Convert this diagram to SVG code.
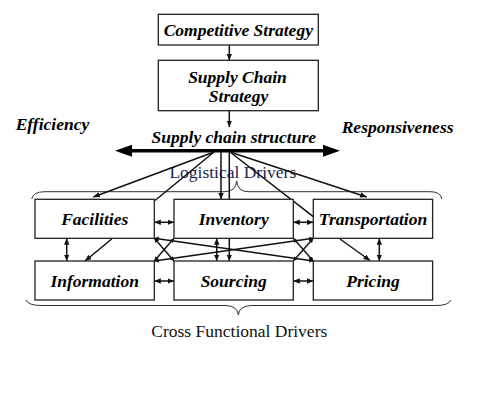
<svg xmlns="http://www.w3.org/2000/svg" width="483" height="419" viewBox="0 0 483 419">
<defs>
<marker id="ah" markerUnits="userSpaceOnUse" markerWidth="7" markerHeight="6" refX="6.5" refY="2.75" orient="auto-start-reverse">
<path d="M0,0 L6.5,2.75 L0,5.5 z" fill="#111"/>
</marker>
<marker id="ahs" markerUnits="userSpaceOnUse" markerWidth="5" markerHeight="5" refX="4.5" refY="2.25" orient="auto-start-reverse">
<path d="M0,0 L4.5,2.25 L0,4.5 z" fill="#111"/>
</marker>
</defs>
<style>
.box{fill:#fff;stroke:#222;stroke-width:1.3}
.lbl{font-family:"Liberation Serif","Times New Roman",serif;font-weight:bold;font-style:italic;font-size:17.5px;fill:#000;text-anchor:middle}
.side{font-family:"Liberation Serif","Times New Roman",serif;font-weight:bold;font-style:italic;font-size:17.5px;fill:#000}
.plain{font-family:"Liberation Serif","Times New Roman",serif;font-size:17.5px;text-anchor:middle}
.cs{fill:none;stroke:#111;stroke-width:1.5;marker-end:url(#ah)}
.cd{fill:none;stroke:#111;stroke-width:1.5;marker-start:url(#ah);marker-end:url(#ah)}
.cx{fill:none;stroke:#111;stroke-width:1.4;marker-start:url(#ahs);marker-end:url(#ahs)}
.brace{fill:none;stroke:#333;stroke-width:1}
</style>
<rect width="483" height="419" fill="#fff"/>

<g id="labels">
<text class="side" x="15.7" y="129.5">Efficiency</text>
<text class="side" x="341.7" y="133.3">Responsiveness</text>
<text class="plain" x="232.8" y="178.3" fill="#1c2550">Logistical Drivers</text>
<text class="plain" x="239.3" y="336.7" fill="#111">Cross Functional Drivers</text>
<path class="brace" d="M31.7,199 Q33,191.7 45,191.7 L225,191.7 Q236,191.5 236.7,181 Q237.5,191.5 248,191.7 L430,191.7 Q441,191.7 441.7,199"/>
<path class="brace" d="M26,300 Q28,305.5 42,305.5 L226,305.5 Q237.5,306 238.3,315 Q239.2,306 251,305.5 L436,305.5 Q449,305.5 450.7,300"/>
</g>

<g id="connectors">
<line class="cs" x1="229.3" y1="45" x2="229.3" y2="60.3"/>
<line class="cs" x1="229.3" y1="110.7" x2="229.3" y2="127"/>
<g id="structure-arrow">
<line x1="128" y1="150.7" x2="327" y2="150.7" stroke="#000" stroke-width="3.6"/>
<polygon points="115,150.7 132,144.7 132,156.7" fill="#000"/>
<polygon points="340,150.7 323,144.7 323,156.7" fill="#000"/>
</g>
<line class="cs" x1="214" y1="152" x2="93.3" y2="197"/>
<path class="cs" d="M214,152 L155,200.5 M111.7,239 L85,261"/>
<line class="cs" x1="221" y1="152" x2="221" y2="199.3"/>
<path class="cs" d="M229.3,152 L229.3,199.3 M229.3,238.3 L229.3,261"/>
<path class="cs" d="M230,152 L313.3,216.7 M340,239 L370,260.5"/>
<line class="cs" x1="230" y1="152" x2="366.7" y2="197"/>

<line class="cd" x1="154.3" y1="222.3" x2="174" y2="222.3"/>
<line class="cd" x1="293.3" y1="222.3" x2="313.3" y2="222.3"/>
<line class="cd" x1="154.3" y1="281" x2="174" y2="281"/>
<line class="cd" x1="293.3" y1="281" x2="313.3" y2="281"/>
<line class="cd" x1="66.7" y1="238.3" x2="66.7" y2="261"/>
<line class="cd" x1="216.7" y1="238.3" x2="216.7" y2="261"/>
<line class="cd" x1="379.3" y1="238.3" x2="379.3" y2="261"/>

<line class="cx" x1="154.3" y1="238.3" x2="174" y2="261"/>
<line class="cx" x1="174" y1="238.3" x2="154.3" y2="261"/>
<line class="cx" x1="154.3" y1="238.3" x2="313.3" y2="261"/>
<line class="cx" x1="154.3" y1="261" x2="313.3" y2="238.3"/>
<line class="cx" x1="293.3" y1="238.3" x2="313.3" y2="261"/>
<line class="cx" x1="313.3" y1="238.3" x2="293.3" y2="261"/>
</g>

<g id="competitive-strategy">
<rect class="box" x="158.3" y="14.3" width="160" height="30.7"/>
<text class="lbl" x="238.3" y="35.5">Competitive Strategy</text>
</g>
<g id="supply-chain-strategy">
<rect class="box" x="158.3" y="60.3" width="160" height="50.4"/>
<text class="lbl" x="237.5" y="82.7">Supply Chain</text>
<text class="lbl" x="238.5" y="101.7">Strategy</text>
</g>
<g id="supply-chain-structure">
<text class="lbl" x="233.8" y="143.3">Supply chain structure</text>
</g>
<g id="facilities">
<rect class="box" x="35" y="199.3" width="119.3" height="39"/>
<text class="lbl" x="94.7" y="225">Facilities</text>
</g>
<g id="inventory">
<rect class="box" x="174" y="199.3" width="119.3" height="39"/>
<text class="lbl" x="233.7" y="225">Inventory</text>
</g>
<g id="transportation">
<rect class="box" x="313.3" y="199.3" width="119.3" height="39"/>
<text class="lbl" x="373" y="225">Transportation</text>
</g>
<g id="information">
<rect class="box" x="35" y="261" width="119.3" height="39"/>
<text class="lbl" x="94.7" y="286.7">Information</text>
</g>
<g id="sourcing">
<rect class="box" x="174" y="261" width="119.3" height="39"/>
<text class="lbl" x="233.7" y="286.7">Sourcing</text>
</g>
<g id="pricing">
<rect class="box" x="313.3" y="261" width="119.3" height="39"/>
<text class="lbl" x="373" y="286.7">Pricing</text>
</g>
</svg>
